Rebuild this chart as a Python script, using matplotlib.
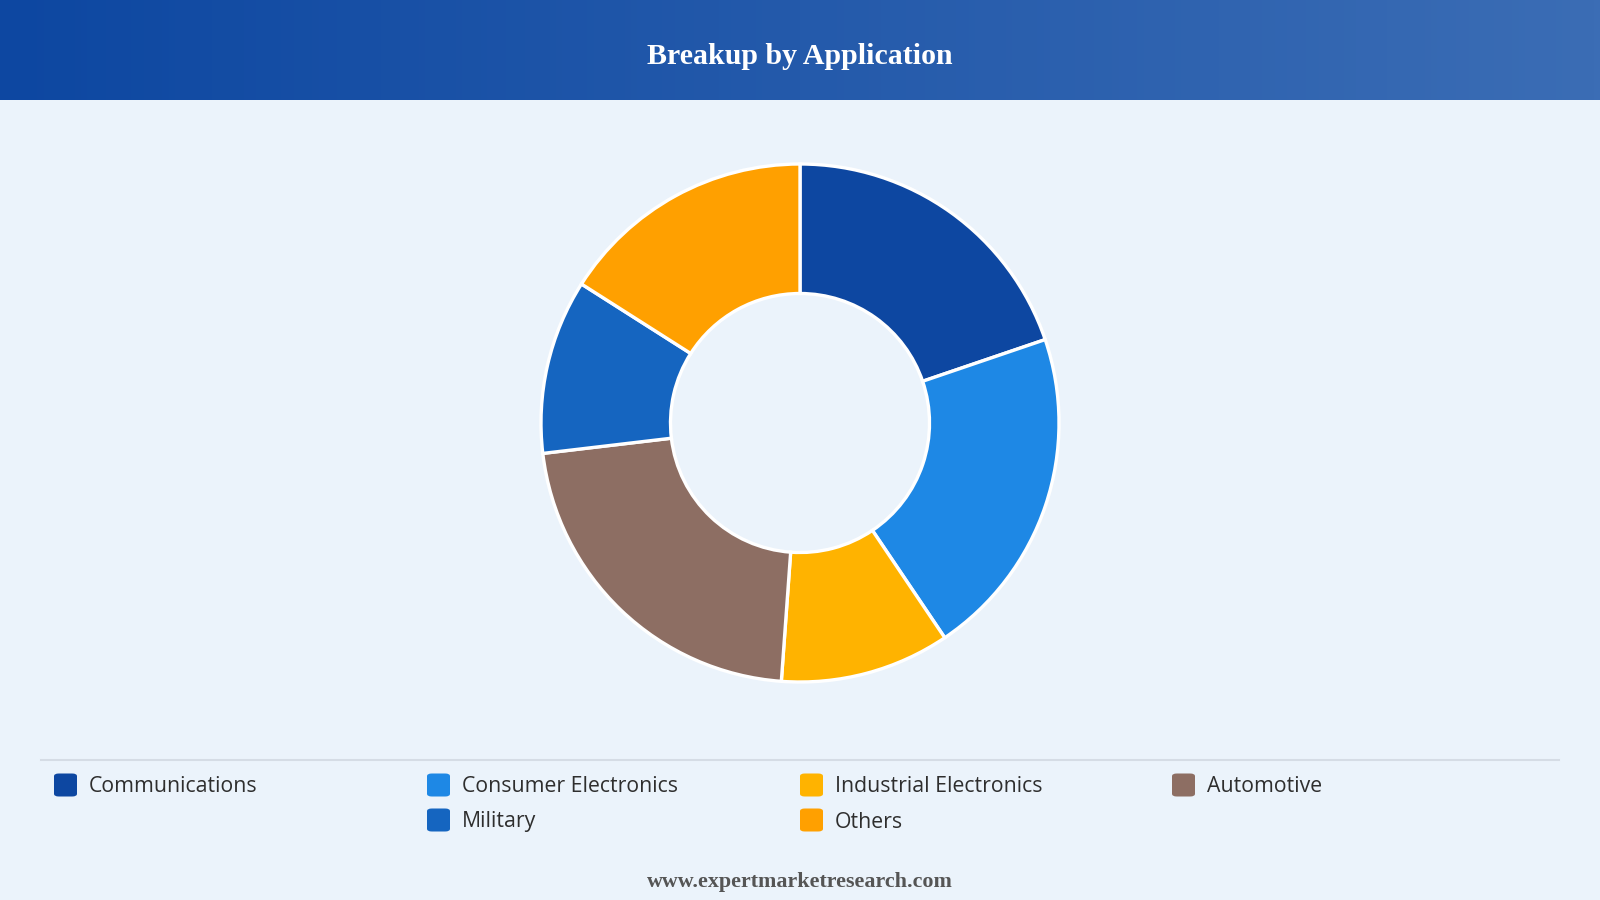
import numpy as np
import matplotlib
matplotlib.use("Agg")
import matplotlib.pyplot as plt
from matplotlib.patches import FancyBboxPatch
from matplotlib.colors import LinearSegmentedColormap

# ---- data ----
title = "Breakup by Application"
labels = ["Communications", "Consumer Electronics", "Industrial Electronics",
          "Automotive", "Military", "Others"]
values = [19.8, 20.8, 10.6, 22.0, 10.9, 16.0]
colors = ["#0D47A1", "#1E88E5", "#FFB300", "#8D6E63", "#1565C0", "#FFA000"]
footer = "www.expertmarketresearch.com"

W, H = 1600, 900
fig = plt.figure(figsize=(16, 9), dpi=100)
fig.patch.set_facecolor("#EBF3FB")

# header gradient
hax = fig.add_axes([0, 1 - 100 / H, 1, 100 / H])
cmap = LinearSegmentedColormap.from_list("hdr", ["#0D47A1", "#3B6DB5"])
grad = np.linspace(0, 1, 512).reshape(1, -1)
hax.imshow(grad, aspect="auto", cmap=cmap, extent=[0, 1, 0, 1])
hax.set_axis_off()
fig.text(0.5, 1 - 57 / H, title, ha="center", va="center", color="white",
         fontsize=21.5, fontweight="bold", family="Liberation Serif")

# donut
cx, cy, R = 800, 423, 259
box = 560
ax = fig.add_axes([(cx - box / 2) / W, (H - cy - box / 2) / H, box / W, box / H])
ax.set_facecolor("none")
ax.pie(values, colors=colors, startangle=90, counterclock=False,
       radius=R / (box / 2),
       wedgeprops=dict(width=0.5 * R / (box / 2), edgecolor="white", linewidth=2.4))
ax.set_xlim(-1, 1)
ax.set_ylim(-1, 1)
ax.set_aspect("equal")
ax.set_axis_off()

# legend separator
fig.add_artist(plt.Line2D([41 / W, 1559 / W], [1 - 760 / H, 1 - 760 / H],
                          color="#D5DCE5", linewidth=1.5))

# legend items
positions = [(54, 785), (427, 785), (800, 785), (1172, 785), (427, 820), (800, 820)]
sq = 23
for (x, y), lab, col in zip(positions, labels, colors):
    p = FancyBboxPatch(((x) / W, (H - y - sq / 2) / H), sq / W, sq / H,
                       boxstyle="round,pad=0,rounding_size=0.003",
                       transform=fig.transFigure, facecolor=col, edgecolor="none")
    fig.add_artist(p)
    fig.text((x + 35) / W, 1 - (y + 2) / H, lab, ha="left", va="center",
             fontsize=15.3, color="#2E2E2E", family="Open Sans")

# footer
fig.text(0.5, 1 - 882 / H, footer, ha="center", va="center", color="#555555",
         fontsize=15.8, fontweight="bold", family="Liberation Serif")

fig.savefig("out.png", dpi=100, facecolor=fig.get_facecolor())
